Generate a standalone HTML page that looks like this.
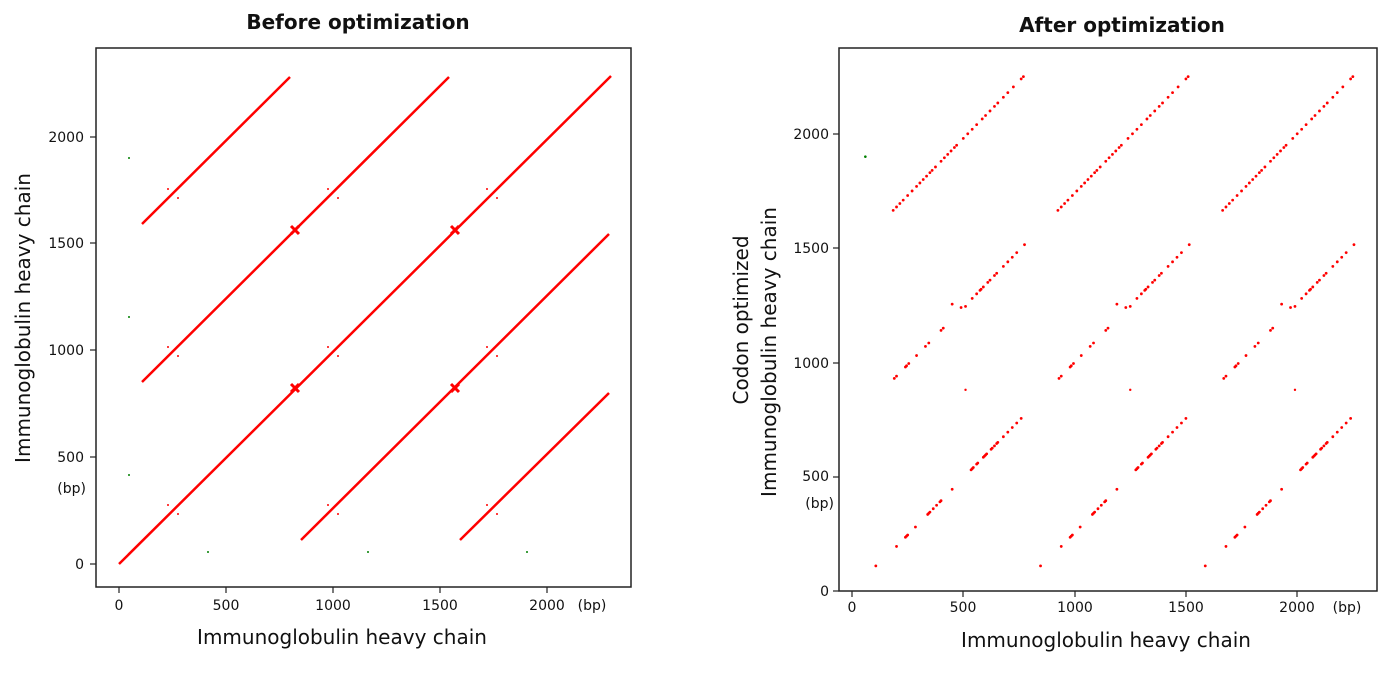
<!DOCTYPE html>
<html><head><meta charset="utf-8"><style>
body{margin:0;background:#fff;width:1392px;height:668px;overflow:hidden}
svg text{font-family:"DejaVu Sans","Liberation Sans",sans-serif;fill:#111}
</style></head><body>
<svg id="s" width="1392" height="668" xmlns="http://www.w3.org/2000/svg">
<text x="358" y="29" font-size="20" font-weight="bold" text-anchor="middle">Before optimization</text>
<text x="1122" y="32" font-size="20" font-weight="bold" text-anchor="middle">After optimization</text>
<rect x="96" y="48" width="535" height="539" fill="none" stroke="#222" stroke-width="1.5"/>
<rect x="839" y="48" width="538" height="543" fill="none" stroke="#222" stroke-width="1.5"/>
<g stroke="#222" stroke-width="1.2">
<line x1="119" y1="587" x2="119" y2="593"/><line x1="226" y1="587" x2="226" y2="593"/><line x1="333" y1="587" x2="333" y2="593"/><line x1="440" y1="587" x2="440" y2="593"/><line x1="547" y1="587" x2="547" y2="593"/>
<line x1="90" y1="564" x2="96" y2="564"/><line x1="90" y1="457" x2="96" y2="457"/><line x1="90" y1="350" x2="96" y2="350"/><line x1="90" y1="243" x2="96" y2="243"/><line x1="90" y1="137" x2="96" y2="137"/>
<line x1="852" y1="591" x2="852" y2="597"/><line x1="963" y1="591" x2="963" y2="597"/><line x1="1075" y1="591" x2="1075" y2="597"/><line x1="1186" y1="591" x2="1186" y2="597"/><line x1="1297" y1="591" x2="1297" y2="597"/>
<line x1="833" y1="591" x2="839" y2="591"/><line x1="833" y1="477" x2="839" y2="477"/><line x1="833" y1="363" x2="839" y2="363"/><line x1="833" y1="248" x2="839" y2="248"/><line x1="833" y1="134" x2="839" y2="134"/>
</g>
<g stroke="red" stroke-width="2.5" fill="none">
<line x1="119" y1="564" x2="611" y2="76"/>
<line x1="142" y1="382" x2="449" y2="77"/>
<line x1="142" y1="224" x2="290" y2="77"/>
<line x1="301" y1="540" x2="609" y2="234"/>
<line x1="460" y1="540" x2="609" y2="393"/>
</g>
<g stroke="red" stroke-width="3">
<path d="M291 226l8 8M299 226l-8 8M451 226l8 8M459 226l-8 8M291 384l8 8M299 384l-8 8M451 384l8 8M459 384l-8 8"/>
</g>
<g id="lp"></g><g id="rp"></g>
<g font-size="14" text-anchor="middle">
<text x="119" y="610">0</text><text x="226" y="610">500</text><text x="333" y="610">1000</text><text x="440" y="610">1500</text><text x="547" y="610">2000</text><text x="592" y="610">(bp)</text>
<text x="852" y="612">0</text><text x="963" y="612">500</text><text x="1075" y="612">1000</text><text x="1186" y="612">1500</text><text x="1297" y="612">2000</text><text x="1347" y="612">(bp)</text>
</g>
<g font-size="14" text-anchor="end">
<text x="84" y="569">0</text><text x="84" y="462">500</text><text x="84" y="355">1000</text><text x="84" y="248">1500</text><text x="84" y="142">2000</text>
<text x="86" y="493">(bp)</text>
<text x="829" y="596">0</text><text x="829" y="481">500</text><text x="829" y="368">1000</text><text x="829" y="253">1500</text><text x="829" y="139">2000</text>
<text x="834" y="508">(bp)</text>
</g>
<g font-size="20" text-anchor="middle">
<text x="342" y="644">Immunoglobulin heavy chain</text>
<text x="1106" y="647">Immunoglobulin heavy chain</text>
<text transform="translate(30,318) rotate(-90)">Immunoglobulin heavy chain</text>
<text transform="translate(748,320) rotate(-90)">Codon optimized</text>
<text transform="translate(776,352) rotate(-90)">Immunoglobulin heavy chain</text>
</g>
</svg>
<script>
(function(){
var ns="http://www.w3.org/2000/svg";
function c(g,x,y,r,f){var e=document.createElementNS(ns,"circle");e.setAttribute("cx",x);e.setAttribute("cy",y);e.setAttribute("r",r);e.setAttribute("fill",f);document.getElementById(g).appendChild(e);}
[[0,0],[160,0],[319,0]].forEach(function(o){[0,158,316].forEach(function(dy){
 c("lp",168+o[0],189+dy,1,"red");c("lp",178+o[0],198+dy,1,"red");});});
[[129,158],[129,317],[129,475],[208,552],[368,552],[527,552]].forEach(function(p){c("lp",p[0],p[1],1,"green");});
function X(d){return 852+d*0.2226}function Y(d){return 591-d*0.2286}
var t=[200,240,245,250,285,340,345,350,365,380,395,400,450,535,540,545,560,565,590,595,600,605,625,630,640,650,655,680,700,720,740,760];
var tp=[185,200,215,230,250,270,290,305,320,335,350,360,375,400,415,430,445,460,470,500,520,540,560,585,600,620,640,655,680,700,725,760,770];
[0,740,1480].forEach(function(bx){
 c("rp",X(bx+107),Y(110),1.4,"red");
 t.forEach(function(v){c("rp",X(bx+v),Y(v-5),1.4,"red");});
 [190,200,240,245,255,290,330,345,400,410,540,560,575,580,590,610,620,640,650,680,700,720,740].forEach(function(v){c("rp",X(bx+v),Y(v+740),1.4,"red");});
 c("rp",X(bx+775),Y(1515),1.4,"red");c("rp",X(bx+450),Y(1255),1.4,"red");c("rp",X(bx+490),Y(1240),1.4,"red");c("rp",X(bx+510),Y(1245),1.4,"red");c("rp",X(bx+510),Y(880),1.2,"red");
 tp.forEach(function(v){c("rp",X(bx+v),Y(v+1480),1.4,"red");});
});
c("rp",X(60),Y(1900),1.3,"green");
})();
</script>
</body></html>
